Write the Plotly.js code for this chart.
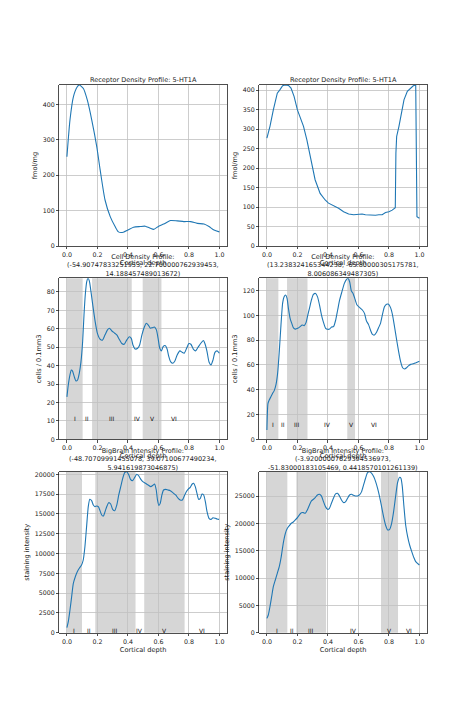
<!DOCTYPE html>
<html>
<head>
<meta charset="utf-8">
<script src="https://cdn.plot.ly/plotly-3.0.1.min.js"></script>
<style>html,body{margin:0;padding:0;background:#fff}#chart{width:474px;height:711px}</style>
</head>
<body>
<div id="chart"></div>
<script>
// ---- data ----
const depthRecL = [0,0.02,0.042,0.068,0.081,0.108,0.134,0.163,0.196,0.218,0.25,0.284,0.316,0.338,0.37,0.40,0.437,0.48,0.514,0.547,0.569,0.602,0.635,0.679,0.723,0.767,0.811,0.855,0.899,0.932,0.965,1.0];
const receptorL = [252,356,421,450,455,445,412,356,280,215,130,83,55,40,39,45,53,55,56,50,47,56,62,72,71,69,69,64,62,55,45,40];

const depthRecR = [0,0.02,0.042,0.053,0.068,0.086,0.103,0.119,0.141,0.158,0.178,0.2,0.222,0.24,0.262,0.284,0.316,0.349,0.382,0.404,0.437,0.47,0.503,0.536,0.569,0.602,0.624,0.646,0.679,0.712,0.734,0.756,0.778,0.8,0.822,0.842,0.846,0.851,0.866,0.877,0.899,0.921,0.943,0.96,0.976,0.984,1.0];
const receptorR = [277,307,349,371,392,401,411,413,412,405,384,349,328,307,272,230,170,135,118,110,104,97,88,82,80,82,82,80,79,79,80,80,86,88,92,98,238,281,307,328,375,397,405,411,413,75,71];

const depthCellL = [0,0.009,0.02,0.029,0.037,0.048,0.059,0.07,0.081,0.092,0.103,0.112,0.121,0.13,0.138,0.147,0.158,0.171,0.185,0.2,0.218,0.233,0.25,0.266,0.279,0.295,0.312,0.327,0.345,0.36,0.376,0.393,0.409,0.422,0.433,0.448,0.464,0.477,0.492,0.508,0.521,0.534,0.547,0.56,0.574,0.587,0.598,0.609,0.62,0.631,0.644,0.657,0.668,0.681,0.695,0.708,0.723,0.741,0.756,0.769,0.785,0.8,0.813,0.829,0.844,0.859,0.877,0.895,0.905,0.919,0.932,0.945,0.958,0.971,0.985,1.0];
const cellL = [23,29.5,35,37.6,37,34,31.7,32.2,35.8,42,53,67.5,79,85.6,87.4,86,80,72,64,57.5,54.3,53.8,56.7,59.4,60.3,58.8,57.7,56.7,54,52,51.6,54,55.7,54.8,51.2,49,49.4,51.2,56.7,61,63,62,60.3,60.6,61,59.4,54.8,49.4,48,50.3,50.9,49,45,42,41.3,42.5,45.8,48,47.2,46.7,49.4,52,51.6,49,48,49.8,52,53.6,52,47.6,42,40.4,43,47.2,48,46.7];

const depthCellR = [0,0.007,0.015,0.026,0.037,0.048,0.059,0.07,0.081,0.092,0.103,0.112,0.123,0.132,0.141,0.152,0.163,0.174,0.187,0.202,0.218,0.231,0.244,0.257,0.268,0.279,0.292,0.305,0.319,0.332,0.345,0.358,0.371,0.385,0.398,0.411,0.424,0.437,0.451,0.464,0.477,0.492,0.508,0.521,0.532,0.543,0.554,0.565,0.576,0.591,0.609,0.626,0.64,0.653,0.666,0.679,0.692,0.705,0.719,0.732,0.745,0.758,0.771,0.785,0.798,0.811,0.824,0.837,0.851,0.864,0.877,0.89,0.903,0.916,0.93,0.943,0.96,0.978,1.0];
const cellR = [7.5,29,31.7,34.4,37,39.3,43.9,53,70.8,92,110,115,116.5,113.8,105.7,97.7,93.6,90,89,89.6,91,92.3,91.7,94.4,100.3,105.7,112.5,117,117.8,115,108.4,100.3,94.4,89.6,88.8,89,90.7,91,96.3,104.4,112.5,119.2,125.9,129,130,127,119.7,117.8,113.8,108.4,106.3,104.4,101.7,95.5,92.8,88.2,84.7,84.2,86.4,90,93.6,100.9,107,109,109,106.3,100.3,90.9,80.2,70.8,62.7,57.8,56.8,57.8,59.5,60.5,61,61.9,63];

const depthBBL = [0,0.009,0.02,0.031,0.042,0.055,0.068,0.081,0.096,0.107,0.118,0.129,0.14,0.15,0.162,0.173,0.184,0.195,0.206,0.217,0.228,0.239,0.25,0.261,0.274,0.287,0.3,0.314,0.327,0.34,0.353,0.366,0.379,0.393,0.406,0.417,0.43,0.445,0.458,0.471,0.485,0.498,0.515,0.533,0.55,0.564,0.575,0.586,0.594,0.603,0.612,0.623,0.634,0.647,0.662,0.678,0.695,0.713,0.73,0.743,0.757,0.77,0.783,0.796,0.809,0.822,0.831,0.842,0.853,0.864,0.875,0.886,0.897,0.908,0.919,0.932,0.945,0.958,0.974,0.985,0.998];
const intensityL = [630,1390,2860,4550,6230,7070,7700,8130,8550,9180,10860,13390,15910,16840,16670,16120,15910,16000,15910,15410,14860,14730,15280,15910,16420,16250,15580,15410,16120,17390,18440,19490,20210,20330,19910,19370,19200,19620,20000,19790,19370,19070,18860,18650,18440,18610,18780,18020,16760,16080,16330,17390,18020,18100,18020,17930,17680,17390,16970,16760,16760,17260,17810,18140,18360,18780,18860,18440,17600,16840,16970,17510,17390,16550,15280,14440,14310,14520,14440,14360,14310];

const depthBBR = [0,0.009,0.02,0.031,0.042,0.055,0.068,0.081,0.094,0.107,0.121,0.134,0.147,0.16,0.173,0.186,0.2,0.213,0.226,0.239,0.252,0.265,0.279,0.292,0.305,0.318,0.331,0.344,0.357,0.371,0.384,0.397,0.41,0.423,0.436,0.45,0.463,0.476,0.489,0.502,0.515,0.529,0.542,0.555,0.568,0.581,0.594,0.607,0.621,0.634,0.647,0.66,0.673,0.686,0.7,0.713,0.726,0.739,0.752,0.765,0.778,0.792,0.805,0.818,0.831,0.844,0.857,0.871,0.879,0.888,0.897,0.91,0.923,0.936,0.95,0.963,0.976,1.0];
const intensityR = [2630,3240,4770,6600,8430,9660,10880,12100,13940,16380,18210,19130,19620,20050,20290,20660,21090,21580,22000,22000,21880,22490,23410,24140,24450,24810,25240,25360,25060,24020,23100,22610,22800,23710,24630,25430,25550,25060,24330,23840,23960,24630,25240,25360,25180,25060,25060,25240,25850,27080,28300,29340,29500,29220,28600,27690,26460,24940,23100,21270,19740,18830,18950,20050,22190,24940,27500,28480,28300,26770,23710,19740,17600,16070,14850,13810,13020,12410];

const layerNames = ['I','II','III','IV','V','VI'];
const layerBoundsCellL = [0,0.103,0.165,0.425,0.497,0.62,0.79];
const layerBoundsCellR = [0,0.075,0.132,0.266,0.527,0.578,0.83];
const layerBoundsBBL = [0,0.099,0.186,0.45,0.507,0.772,1.0];
const layerBoundsBBR = [0,0.134,0.193,0.388,0.748,0.86,1.0];
const layerLabelValue = 10;

const titleReceptor = 'Receptor Density Profile: 5-HT1A';
const titleCellL = 'Cell Density Profile:<br>(-54.90747833251953, 22.700000762939453,<br>14.188457489013672)';
const titleCellR = 'Cell Density Profile:<br>(13.238324165344238, -65.80000305175781,<br>8.006086349487305)';
const titleBBL = 'BigBrain Intensity Profile:<br>(-48.70709991455078, 39.07100677490234,<br>5.941619873046875)';
const titleBBR = 'BigBrain Intensity Profile:<br>(-3.92000007629394536973,<br>-51.83000183105469, 0.4418570101261139)';
const xLabel = 'Cortical depth';
const yLabelReceptor = 'fmol/mg';
const yLabelCell = 'cells / 0.1mm3';
const yLabelBB = 'staining intensity';

// ---- layout ----
const W = 474, H = 711;
const FONT = 'DejaVu Sans';
const INK = '#1a1a1a';
const colL = [59.3/W, 227/W], colR = [259.3/W, 427/W];
const rowT = [1-246/H, 1-85/H], rowM = [1-439.3/H, 1-278.3/H], rowB = [1-632.7/H, 1-471.7/H];

const panels = [
  {x: depthRecL, y: receptorL, xd: colL, yd: rowT, dtick: 100, ylab: yLabelReceptor, title: titleReceptor, layers: null, shape: 'spline'},
  {x: depthRecR, y: receptorR, xd: colR, yd: rowT, dtick: 50, ylab: yLabelReceptor, title: titleReceptor, layers: null, shape: 'linear'},
  {x: depthCellL, y: cellL, xd: colL, yd: rowM, dtick: 10, ylab: yLabelCell, title: titleCellL, layers: layerBoundsCellL, shape: 'spline'},
  {x: depthCellR, y: cellR, xd: colR, yd: rowM, dtick: 20, ylab: yLabelCell, title: titleCellR, layers: layerBoundsCellR, shape: 'spline'},
  {x: depthBBL, y: intensityL, xd: colL, yd: rowB, dtick: 2500, ylab: yLabelBB, title: titleBBL, layers: layerBoundsBBL, shape: 'spline'},
  {x: depthBBR, y: intensityR, xd: colR, yd: rowB, dtick: 5000, ylab: yLabelBB, title: titleBBR, layers: layerBoundsBBR, shape: 'spline'}
];

const traces = [], shapes = [], annotations = [];
const layout = {
  width: W, height: H,
  margin: {l: 0, r: 0, t: 0, b: 0},
  paper_bgcolor: '#fff', plot_bgcolor: '#fff',
  showlegend: false, hovermode: false,
  font: {family: FONT, size: 6.3, color: INK}
};

panels.forEach((p, i) => {
  const n = i + 1;
  const xa = 'x' + n, ya = 'y' + n;
  traces.push({
    type: 'scatter', mode: 'lines', x: p.x, y: p.y, xaxis: xa, yaxis: ya,
    line: {color: '#1f77b4', width: 1.1, shape: p.shape, smoothing: 0.6},
    cliponaxis: true
  });
  const common = {
    showline: true, mirror: true, linecolor: '#222', linewidth: 0.8,
    ticks: 'outside', ticklen: 2.5, tickwidth: 0.8, tickcolor: '#222',
    showgrid: true, gridcolor: '#c0c0c0', gridwidth: 0.8, zeroline: false,
    tickfont: {family: FONT, size: 6.3, color: INK}
  };
  layout['xaxis' + n] = Object.assign({}, common, {
    domain: p.xd, anchor: ya, range: [-0.05, 1.05], tick0: 0, dtick: 0.2, tickformat: '.1f',
    title: {text: xLabel, font: {family: FONT, size: 6.6, color: INK}, standoff: 3}
  });
  layout['yaxis' + n] = Object.assign({}, common, {
    domain: p.yd, anchor: xa, range: [0, Math.max(...p.y)], tick0: 0, dtick: p.dtick, tickformat: 'd',
    title: {text: p.ylab, font: {family: FONT, size: 6.6, color: INK}, standoff: 4}
  });
  const multi = p.title.indexOf('<br>') >= 0;
  annotations.push({
    xref: 'paper', yref: 'paper', x: (p.xd[0] + p.xd[1]) / 2, y: p.yd[1],
    xanchor: 'center', yanchor: 'bottom', yshift: multi ? -2 : -1, showarrow: false,
    text: p.title, font: {family: FONT, size: 6.5, color: INK}
  });
  if (p.layers) {
    for (let k = 0; k < layerNames.length; k++) {
      const a = p.layers[k], b = p.layers[k + 1];
      if (k % 2 === 0) {
        shapes.push({type: 'rect', xref: xa, yref: ya + ' domain', x0: a, x1: b, y0: 0, y1: 1,
          fillcolor: '#d6d6d6', line: {width: 0}, layer: 'below'});
      }
      annotations.push({
        xref: xa, yref: ya, x: (a + b) / 2, y: layerLabelValue, xanchor: 'center', yanchor: 'middle',
        yshift: 2, showarrow: false, text: layerNames[k], font: {family: FONT, size: 6, color: '#111'}
      });
    }
  }
});
layout.shapes = shapes;
layout.annotations = annotations;

Plotly.newPlot('chart', traces, layout, {staticPlot: true, displayModeBar: false});
</script>
</body>
</html>
